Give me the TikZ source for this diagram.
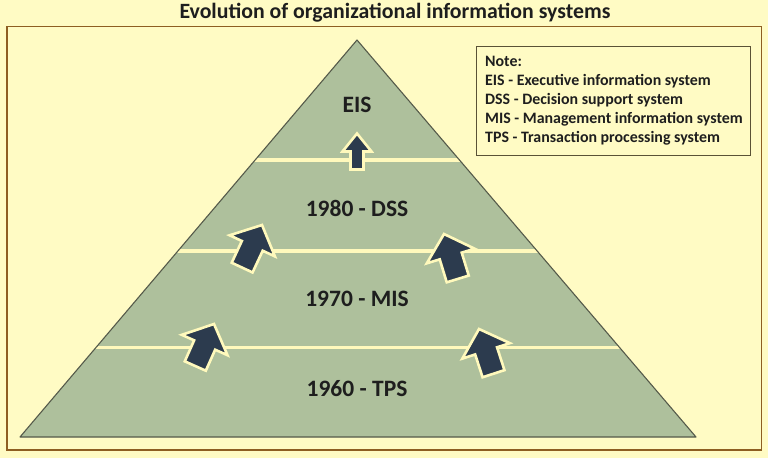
\documentclass[tikz,border=0pt]{standalone}
\usepackage{fontspec}
\setmainfont{Carlito}
\definecolor{bgyellow}{HTML}{FFFBC4}
\definecolor{framebrown}{HTML}{8E5E22}
\definecolor{pyrgreen}{HTML}{AEC09C}
\definecolor{pyredge}{HTML}{555A4A}
\definecolor{bandline}{HTML}{FFF9BC}
\definecolor{arrownavy}{HTML}{2C3B4E}
\definecolor{inktext}{HTML}{1E1E1E}
\definecolor{noteedge}{HTML}{5A5236}
\tikzset{
  bandlabel/.style={font=\bfseries\fontsize{23.5}{26}\selectfont, text=inktext, inner sep=0pt},
  notetext/.style={font=\bfseries\fontsize{15.9}{19}\selectfont, text=inktext, inner sep=0pt, anchor=west},
  blockarrow/.style={fill=arrownavy, draw=bandline, line width=2.6pt, line join=miter},
  bandsep/.style={draw=bandline, line width=3.2pt},
}
\newcommand{\mkarrow}[8]{% x y angle L hl hw sw name
  \begin{scope}[shift={(#1,#2)}, rotate=#3]
    \path[blockarrow] (0,0) -- (#6,#5) -- (#7,#5) -- (#7,#4) -- (-#7,#4) -- (-#7,#5) -- (-#6,#5) -- cycle;
    \coordinate (#8) at (0,0);
  \end{scope}}
\begin{document}
\begin{tikzpicture}[x=1pt,y=-1pt]
  \useasboundingbox (0,0) rectangle (768,458);
  \fill[bgyellow] (0,0) rectangle (768,458);
  % title
  \node[font=\bfseries\fontsize{21.8}{24}\selectfont, text=inktext, inner sep=0pt] (title) at (395,13) {Evolution of organizational information systems};
  % frame
  \draw[framebrown, line width=1.8pt] (7,26.5) rectangle (761.5,450);
  % pyramid
  \coordinate (apex) at (357,40);
  \coordinate (bl) at (20,437);
  \coordinate (br) at (696,437);
  \fill[pyrgreen] (apex) -- (br) -- (bl) -- cycle;
  % band separators
  \begin{scope}
    \clip (apex) -- (br) -- (bl) -- cycle;
    \draw[bandsep] (0,160) -- (768,160);
    \draw[bandsep] (0,251) -- (768,251);
    \draw[bandsep] (0,347.5) -- (768,347.5);
  \end{scope}
  \draw[pyredge, line width=1.1pt, line join=round] (apex) -- (br) -- (bl) -- cycle;
  % arrows
  \mkarrow{357}{133.5}{0}{36}{18}{14.5}{6.5}{a0}
  \mkarrow{262}{225}{-25}{47}{23}{25}{11.5}{a1}
  \mkarrow{444}{234}{17}{47}{23}{25}{11.5}{a2}
  \mkarrow{214}{324}{-24}{46}{23}{25}{11.5}{a3}
  \mkarrow{479}{329}{18}{47}{23}{25}{11.5}{a4}
  % band labels
  \node[bandlabel] (eis) at (357,105) {EIS};
  \node[bandlabel] (dss) at (357,208) {1980 - DSS};
  \node[bandlabel] (mis) at (357,299) {1970 - MIS};
  \node[bandlabel] (tps) at (357,389) {1960 - TPS};
  % note box
  \draw[noteedge, line width=0.9pt, fill=bgyellow] (476.5,46.5) rectangle (750,155.5);
  \node[notetext] (n0) at (485,61.5) {Note:};
  \node[notetext] (n1) at (485,81) {EIS - Executive information system};
  \node[notetext] (n2) at (485,100) {DSS - Decision support system};
  \node[notetext] (n3) at (485,119.5) {MIS - Management information system};
  \node[notetext] (n4) at (485,138.5) {TPS - Transaction processing system};
\end{tikzpicture}
\end{document}
